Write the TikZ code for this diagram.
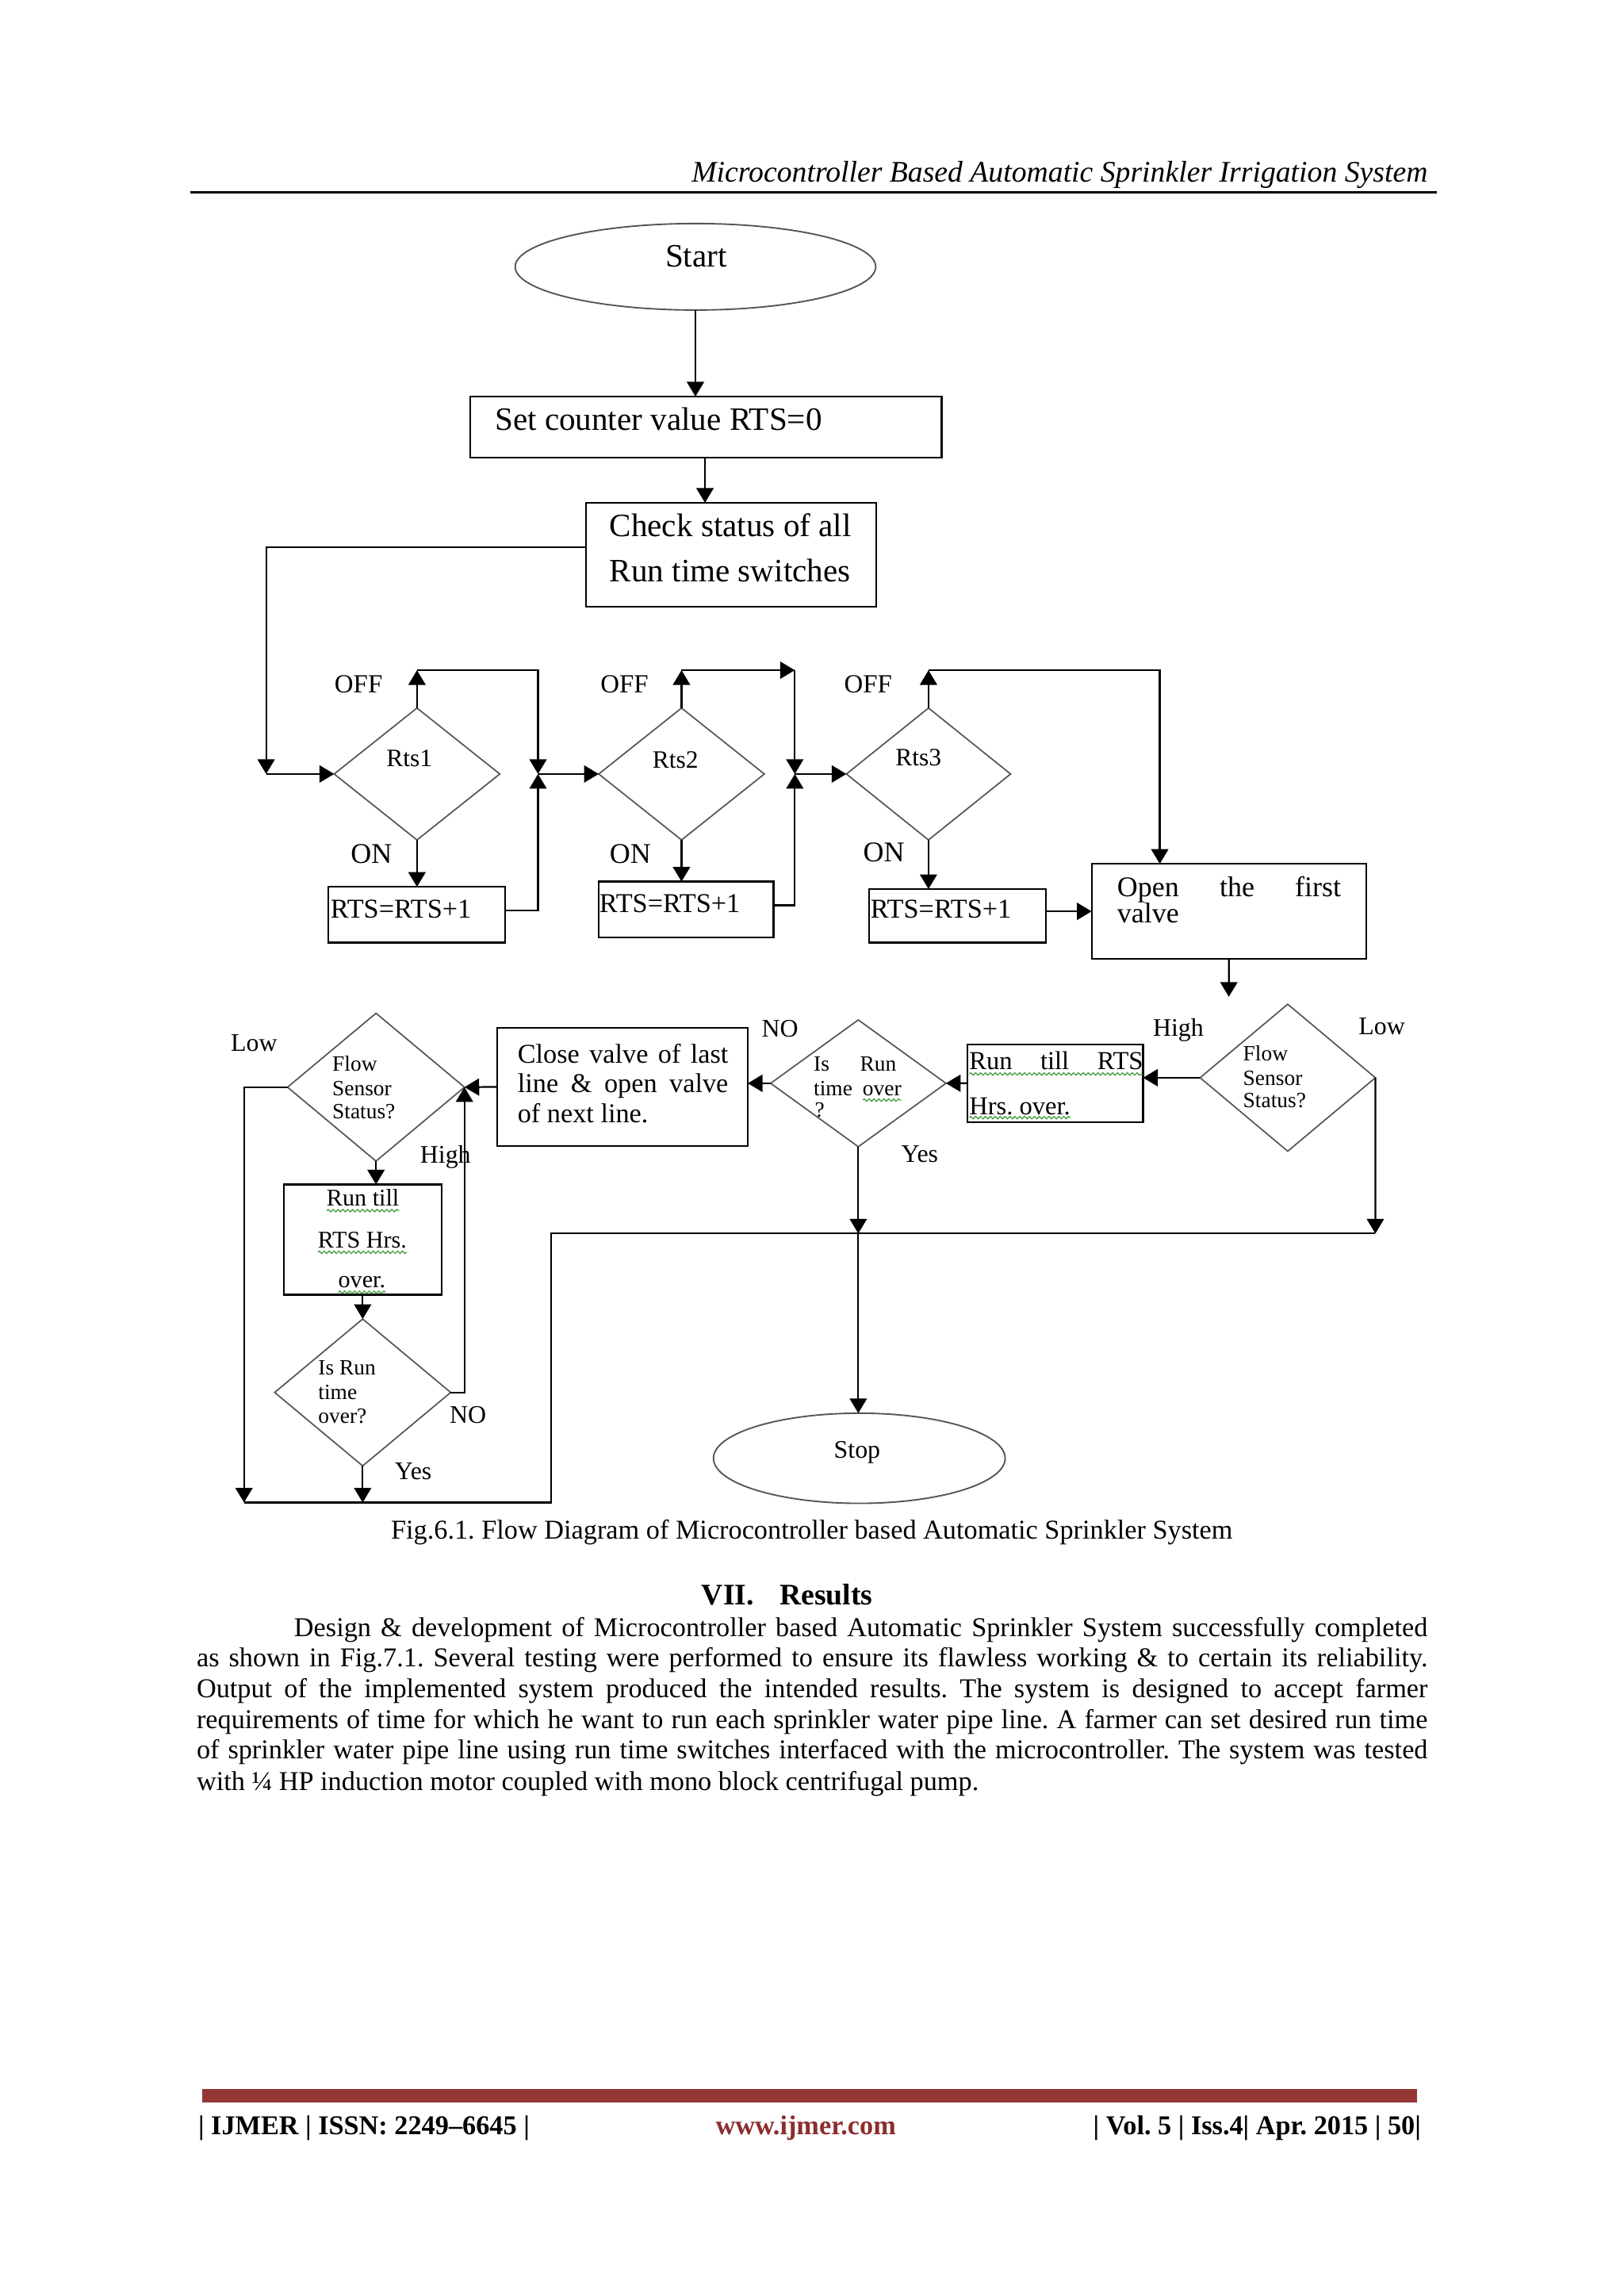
\documentclass[tikz,border=0pt]{standalone}
\usepackage{fontspec}
\setmainfont{Liberation Serif}
\usetikzlibrary{shapes.geometric,arrows.meta,calc,decorations.pathmorphing}
\newlength\pxu
\setlength\pxu{0.189531mm}
\definecolor{barred}{HTML}{943634}
\definecolor{urlred}{HTML}{8B2E2E}
\definecolor{wavegreen}{HTML}{3A9A3A}
\definecolor{dgray}{HTML}{555555}
\newcommand\fsz[1]{\fontsize{#1}{#1}\selectfont}
\frenchspacing
\tikzset{
  plain/.style={line width=0.65pt},
  arr/.style={line width=0.65pt,-{Triangle[width=6.3pt,length=5.4pt]}},
  boxnode/.style={draw, line width=0.65pt, rectangle, inner sep=0pt, outer sep=0pt},
  dia/.style={draw=dgray, line width=0.5pt, diamond, inner sep=0pt, outer sep=0pt},
  ell/.style={draw=dgray, line width=0.55pt, ellipse, inner sep=0pt, outer sep=0pt},
  lbl/.style={inner sep=0pt, outer sep=0pt, anchor=base west},
  wavy/.style={draw=wavegreen, line width=0.35pt, decorate, decoration={snake, amplitude=0.45pt, segment length=1.8pt}}
}
\begin{document}
\begin{tikzpicture}[x=\pxu, y=-\pxu]
\useasboundingbox (0,0) rectangle (1108,1566.3);
\fill[white] (0,0) rectangle (1108,1566.3);

% header
\node[lbl, anchor=base east] (head) at (974.1,124.4) {\fsz{11}\itshape Microcontroller Based Automatic Sprinkler Irrigation System};
\draw[line width=0.8pt] (129.8,131.3) -- (980.6,131.3);

% shapes
\node[ell, minimum width=246\pxu, minimum height=59\pxu] (start) at (474.5,182) {};
\node[boxnode, minimum width=321.5\pxu, minimum height=41.7\pxu] (set) at (481.75,291.35) {};
\node[boxnode, minimum width=198\pxu, minimum height=71\pxu] (check) at (499,378.5) {};
\node[dia, minimum width=113\pxu, minimum height=90\pxu] (rts1) at (284.5,528) {};
\node[dia, minimum width=113\pxu, minimum height=90\pxu] (rts2) at (465,528) {};
\node[dia, minimum width=112\pxu, minimum height=90\pxu] (rts3) at (633.5,528) {};
\node[boxnode, minimum width=120.7\pxu, minimum height=38\pxu] (b1) at (284.45,624) {};
\node[boxnode, minimum width=119.3\pxu, minimum height=37.9\pxu] (b2) at (468.15,620.35) {};
\node[boxnode, minimum width=120.6\pxu, minimum height=36.5\pxu] (b3) at (653.3,624.75) {};
\node[boxnode, minimum width=187.4\pxu, minimum height=64.8\pxu] (open) at (838.5,621.7) {};
\node[dia, minimum width=119.6\pxu, minimum height=100.3\pxu] (fsR) at (878.6,735.2) {};
\node[boxnode, minimum width=119.9\pxu, minimum height=53.1\pxu] (runR) at (719.95,738.95) {};
\node[dia, minimum width=119.6\pxu, minimum height=86.5\pxu] (isR) at (585.6,739) {};
\node[boxnode, minimum width=170.8\pxu, minimum height=80.9\pxu] (close) at (424.8,741.45) {};
\node[dia, minimum width=120.7\pxu, minimum height=100.9\pxu] (fsL) at (256.55,741.65) {};
\node[boxnode, minimum width=107.5\pxu, minimum height=75.2\pxu] (runL) at (247.45,845.6) {};
\node[dia, minimum width=120.1\pxu, minimum height=100.2\pxu] (isL) at (247.45,949.9) {};
\node[ell, minimum width=199\pxu, minimum height=61.5\pxu] (stop) at (586.3,994.8) {};

% texts in shapes
\node[lbl, anchor=base] (tstart) at (475,182) {\fsz{12}Start};
\node[lbl] (tset) at (337.7,293.6) {\fsz{12}Set counter value RTS=0};
\node[lbl] (tcheck1) at (415.9,366) {\fsz{12}Check status of all};
\node[lbl] (tcheck2) at (415.9,396.6) {\fsz{12}Run time switches};
\node[lbl] (trts1) at (263.7,523) {\fsz{9.2}Rts1};
\node[lbl] (trts2) at (445.2,523.9) {\fsz{9.2}Rts2};
\node[lbl] (trts3) at (611,522.4) {\fsz{9.2}Rts3};
\node[lbl] (tb1) at (225.6,626.1) {\fsz{10}RTS=RTS+1};
\node[lbl] (tb2) at (409,622.2) {\fsz{10}RTS=RTS+1};
\node[lbl] (tb3) at (594,626) {\fsz{10}RTS=RTS+1};
\node[lbl] (topen1) at (762.3,611.4) {\fsz{10.5}\makebox[152.7\pxu][s]{Open the first}};
\node[lbl] (topen2) at (762.3,629.4) {\fsz{10.5}valve};
\node[lbl] (tfsR1) at (848.2,723.8) {\fsz{8}Flow};
\node[lbl] (tfsR2) at (848.2,740.4) {\fsz{8}Sensor};
\node[lbl] (tfsR3) at (848.2,755.7) {\fsz{8}Status?};
\node[lbl] (trunR1) at (661.3,729.5) {\fsz{9.5}\makebox[118.6\pxu][s]{Run till RTS}};
\node[lbl] (trunR2) at (661.3,760.2) {\fsz{9.5}Hrs. over.};
\node[lbl] (tisR1) at (555.2,730.6) {\fsz{8}\makebox[56.4\pxu][s]{Is Run}};
\node[lbl] (tisR2a) at (555.2,747.7) {\fsz{8}time};
\node[lbl] (tisR2b) at (588.6,747.7) {\fsz{8}over};
\node[lbl] (tisR3) at (556,762) {\fsz{8}?};
\node[lbl] (tclose1) at (353.2,725) {\fsz{10}\makebox[143.7\pxu][s]{Close valve of last}};
\node[lbl] (tclose2) at (353.2,745.4) {\fsz{10}\makebox[143.7\pxu][s]{line \& open valve}};
\node[lbl] (tclose3) at (353.2,765.9) {\fsz{10}of next line.};
\node[lbl] (tfsL1) at (226.8,730.6) {\fsz{8}Flow};
\node[lbl] (tfsL2) at (226.8,747.7) {\fsz{8}Sensor};
\node[lbl] (tfsL3) at (226.8,763.2) {\fsz{8}Status?};
\node[lbl, anchor=base] (trunL1) at (247.6,822.9) {\fsz{8.8}Run till};
\node[lbl, anchor=base] (trunL2) at (247.2,851.3) {\fsz{8.8}RTS Hrs.};
\node[lbl, anchor=base] (trunL3) at (246.9,878.6) {\fsz{8.8}over.};
\node[lbl] (tisL1) at (217.2,937.8) {\fsz{8}Is Run};
\node[lbl] (tisL2) at (217.2,954.9) {\fsz{8}time};
\node[lbl] (tisL3) at (217.2,970.8) {\fsz{8}over?};
\node[lbl, anchor=base] (tstop) at (584.8,994.7) {\fsz{9.3}Stop};

% spell-check underlines
\draw[wavy] ([yshift=-1.7pt]trunR1.base west) -- ([yshift=-1.7pt]trunR1.base east);
\draw[wavy] ([yshift=-1.2pt]trunR2.base west) -- ([yshift=-1.2pt]trunR2.base east);
\draw[wavy] ([yshift=-1.5pt]tisR2b.base west) -- ([yshift=-1.5pt]tisR2b.base east);
\draw[wavy] ([yshift=-1.6pt]trunL1.base west) -- ([yshift=-1.6pt]trunL1.base east);
\draw[wavy] ([yshift=-1.6pt]trunL2.base west) -- ([yshift=-1.6pt]trunL2.base east);
\draw[wavy] ([yshift=-1.6pt]trunL3.base west) -- ([yshift=-1.6pt]trunL3.base east);

% branch labels
\node[lbl] (off1) at (228.3,472.5) {\fsz{9.6}OFF};
\node[lbl] (off2) at (409.8,472.5) {\fsz{9.6}OFF};
\node[lbl] (off3) at (576,472.5) {\fsz{9.6}OFF};
\node[lbl] (on1) at (239.3,588.8) {\fsz{10.5}ON};
\node[lbl] (on2) at (416,588.8) {\fsz{10.5}ON};
\node[lbl] (on3) at (589,587.9) {\fsz{10.5}ON};
\node[lbl] (highR) at (786.7,706.7) {\fsz{9.3}High};
\node[lbl] (lowR) at (927,705.6) {\fsz{9.3}Low};
\node[lbl] (noR) at (519.7,707.2) {\fsz{9.3}NO};
\node[lbl] (yesR) at (615,792.8) {\fsz{9.3}Yes};
\node[lbl] (lowL) at (157.5,717) {\fsz{9.3}Low};
\node[lbl] (highL) at (286.7,793.2) {\fsz{9.3}High};
\node[lbl] (noL) at (306.8,970.8) {\fsz{9.3}NO};
\node[lbl] (yesL) at (269.4,1009.1) {\fsz{9.3}Yes};

% helper coordinates
\coordinate (a2) at (481,0);
\coordinate (cw) at (0,373.3);
\coordinate (topy) at (0,457.2);
\coordinate (jL) at (181.6,528);
\coordinate (j1) at (367.1,528);
\coordinate (j2) at (542.3,528);
\coordinate (t3) at (791.3,0);
\coordinate (c4) at (838.4,680);
\coordinate (hR) at (938.4,841.5);
\coordinate (hL1) at (376.1,841.5);
\coordinate (bL) at (166.5,1025);

% connectors
\draw[arr] (start.south) -- (start.south |- set.north);
\draw[arr] (a2 |- set.south) -- (a2 |- check.north);
\draw[arr] (check.west |- cw) -| (jL);
\draw[arr] (jL) -- (rts1.west);

\draw[arr] (rts1.north) -- (rts1.north |- topy);
\draw[arr] (rts1.north |- topy) -| (j1);
\draw[arr] (rts1.south) -- (rts1.south |- b1.north);
\draw[arr] ([yshift=2.8\pxu]b1.east) -| (j1);
\draw[arr] (j1) -- (rts2.west);

\draw[arr] (rts2.north) -- (rts2.north |- topy);
\draw[arr] (rts2.north |- topy) -- (j2 |- topy);
\draw[arr] (j2 |- topy) -- (j2);
\draw[arr] (rts2.south) -- (rts2.south |- b2.north);
\draw[arr] ([yshift=2.75\pxu]b2.east) -| (j2);
\draw[arr] (j2) -- (rts3.west);

\draw[arr] (rts3.north) -- (rts3.north |- topy);
\draw[arr] (rts3.north |- topy) -| (t3 |- open.north);
\draw[arr] (rts3.south) -- (rts3.south |- b3.north);
\draw[arr] (b3.east |- open.west) -- (open.west);
\draw[arr] (open.south) -- (c4);

\draw[arr] (fsR.west) -- (fsR.west -| runR.east);
\draw[arr] (fsR.east) -- (hR);
\draw[arr] (runR.west) -- (isR.east);
\draw[arr] (isR.west) -- (isR.west -| close.east);
\draw[arr] (isR.south) -- (isR.south |- hR);
\draw[arr] (isR.south |- hR) -- (isR.south |- stop.north);
\draw[plain] (hR) -- (hL1) |- (bL);

\draw[arr] (close.west) -- (fsL.east);
\draw[arr] (fsL.west) -| (bL);
\draw[arr] (fsL.south) -- (fsL.south |- runL.north);
\draw[arr] (runL.south) -- (isL.north);
\draw[arr] (isL.east) -| (fsL.east);
\draw[arr] (isL.south) -- (isL.south |- bL);

% caption and text
\node[lbl, anchor=base] (caption) at (553.9,1049.6) {\fsz{10}Fig.6.1. Flow Diagram of Microcontroller based Automatic Sprinkler System};
\node[lbl] (sec) at (478.8,1095) {\fsz{11}\bfseries VII.\hspace{17.5\pxu}Results};
\node[lbl] (p1) at (200.7,1116.6) {\fsz{10}\makebox[773.4\pxu][s]{Design \& development of Microcontroller based Automatic Sprinkler System successfully completed}};
\node[lbl] (p2) at (134.2,1137) {\fsz{10}\makebox[839.9\pxu][s]{as shown in Fig.7.1. Several testing were performed to ensure its flawless working \& to certain its reliability.}};
\node[lbl] (p3) at (134.2,1158) {\fsz{10}\makebox[839.9\pxu][s]{Output of the implemented system produced the intended results. The system is designed to accept farmer}};
\node[lbl] (p4) at (134.2,1179) {\fsz{10}\makebox[839.9\pxu][s]{requirements of time for which he want to run each sprinkler water pipe line. A farmer can set desired run time}};
\node[lbl] (p5) at (134.2,1200) {\fsz{10}\makebox[839.9\pxu][s]{of sprinkler water pipe line using run time switches interfaced with the microcontroller. The system was tested}};
\node[lbl] (p6) at (134.2,1221.6) {\fsz{10}with ¼ HP induction motor coupled with mono block centrifugal pump.};

% footer
\fill[barred] (138,1425) rectangle (967,1434);
\node[lbl] (fl) at (135.3,1456.2) {\fsz{10}\bfseries | IJMER | ISSN: 2249–6645 |};
\node[lbl, anchor=base] (fc) at (549.8,1456.2) {\fsz{10}\bfseries\color{urlred}www.ijmer.com};
\node[lbl, anchor=base east] (fr) at (969.5,1456.2) {\fsz{10}\bfseries | Vol. 5 | Iss.4| Apr. 2015 | 50|};
\end{tikzpicture}
\end{document}
